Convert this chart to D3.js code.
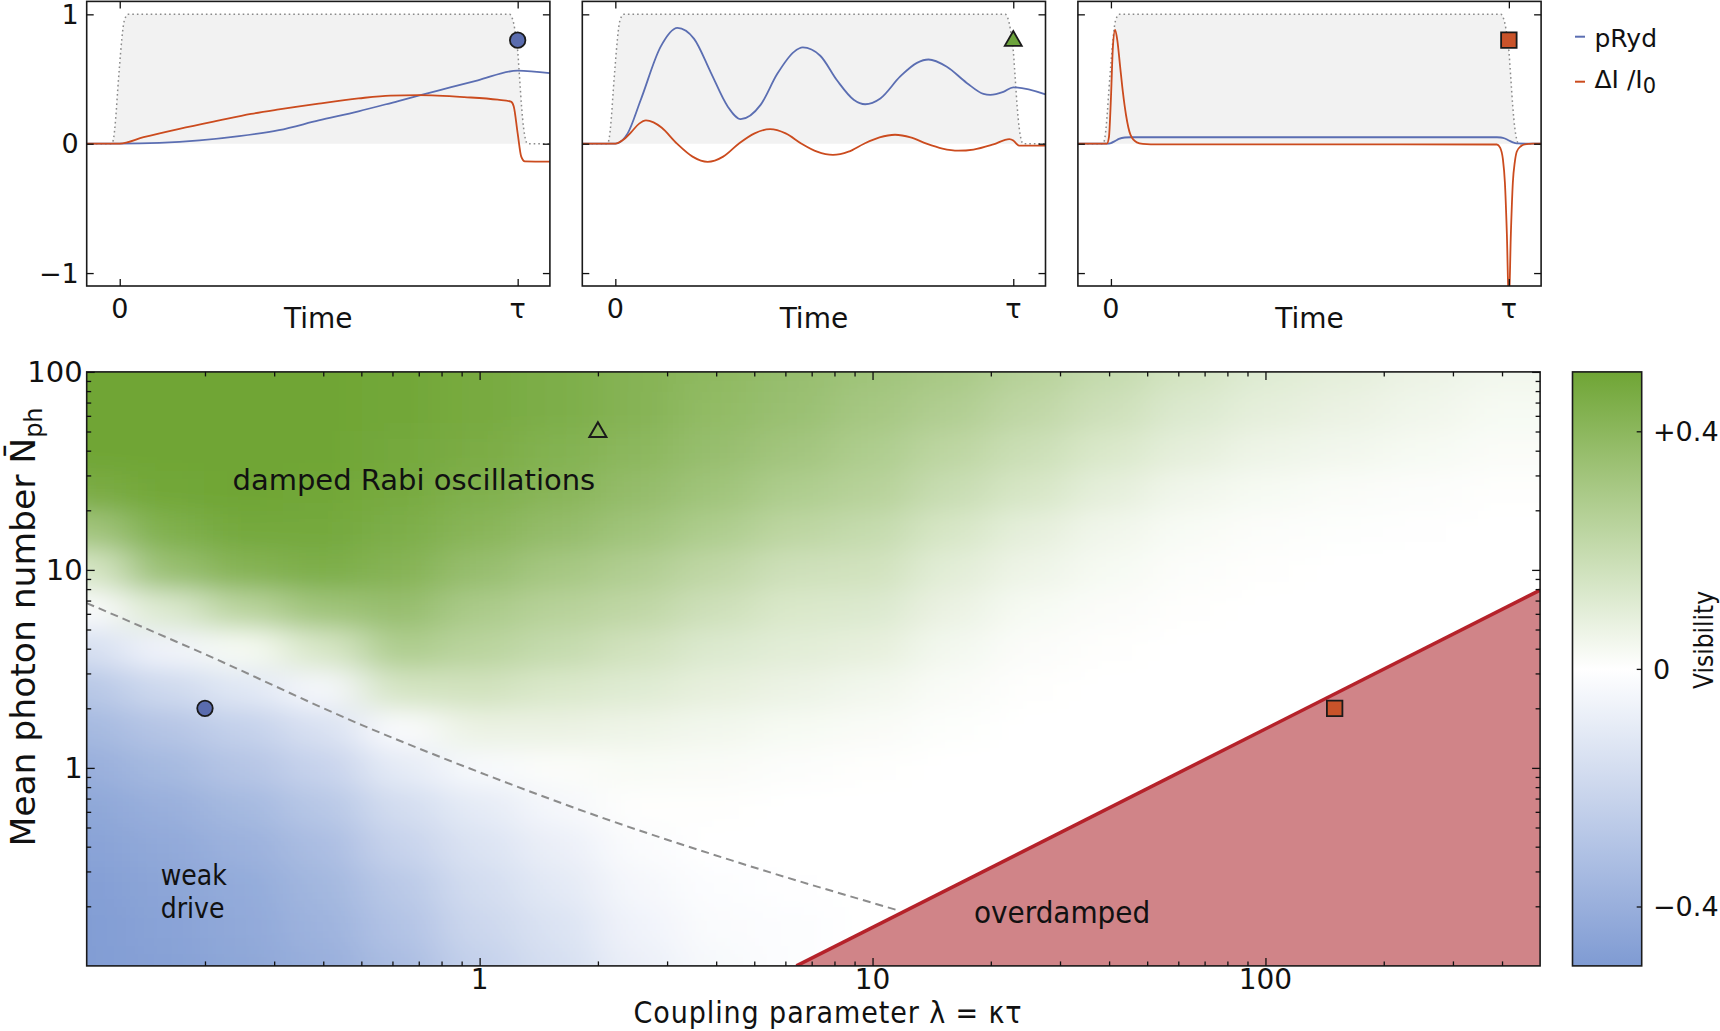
<!DOCTYPE html>
<html><head><meta charset="utf-8">
<script src="https://cdn.jsdelivr.net/npm/d3@7/dist/d3.min.js"></script>
<style>html,body{margin:0;padding:0;background:#fff}svg{display:block}</style>
</head><body>
<svg id="chart" width="1720" height="1031"></svg>
<script>
// ================= DATA =================
// pulse envelope (time in units of tau)
const envT = [-0.083,-0.02,-0.015,-0.01,-0.005,0,0.005,0.01,0.015,0.02,0.98,0.985,0.99,0.995,1.0,1.005,1.01,1.015,1.02,1.025,1.081];
const envV = [0,0,0.05,0.2,0.42,0.62,0.8,0.93,0.98,1,1,0.98,0.93,0.84,0.72,0.5,0.28,0.12,0.03,0,0];

// panel 1 : weak drive
const p1RydT = [-0.083,0,0.1,0.2,0.3,0.4,0.5,0.6,0.7,0.8,0.9,1.0,1.081];
const p1RydV = [0,0,0.006,0.025,0.058,0.105,0.18,0.25,0.33,0.41,0.49,0.565,0.545];
const p1dIT  = [-0.083,0,0.06,0.15,0.25,0.33,0.4,0.5,0.6,0.68,0.75,0.866,0.95,0.983,0.99,1.0,1.009,1.018,1.081];
const p1dIV  = [0,0,0.05,0.115,0.18,0.23,0.265,0.31,0.35,0.372,0.375,0.36,0.34,0.325,0.29,0.08,-0.1,-0.136,-0.138];

// panel 2 : damped Rabi oscillations
const p2RydT = [-0.083,0,0.031,0.064,0.114,0.156,0.198,0.24,0.282,0.315,0.365,0.407,0.449,0.471,0.515,0.557,0.599,0.628,0.666,0.716,0.758,0.787,0.833,0.883,0.925,0.942,0.975,1.0,1.081];
const p2RydV = [0,0,0.08,0.34,0.75,0.895,0.81,0.55,0.29,0.19,0.30,0.54,0.71,0.744,0.68,0.49,0.34,0.305,0.35,0.52,0.625,0.651,0.595,0.47,0.385,0.377,0.40,0.436,0.382];
const p2dIT  = [-0.083,0,0.02,0.04,0.06,0.077,0.096,0.116,0.155,0.194,0.232,0.271,0.31,0.35,0.389,0.428,0.468,0.507,0.547,0.586,0.625,0.664,0.703,0.742,0.782,0.822,0.862,0.9,0.95,0.99,1.0,1.008,1.015,1.081];
const p2dIV  = [0,0,0.03,0.09,0.155,0.18,0.165,0.125,0,-0.1,-0.141,-0.1,0,0.08,0.113,0.08,0,-0.062,-0.087,-0.062,0,0.049,0.069,0.049,0,-0.038,-0.054,-0.045,-0.005,0.036,0.025,0,-0.015,-0.015];

// panel 3 : overdamped
const p3RydT = [-0.083,-0.01,0,0.01,0.02,0.035,0.05,0.97,0.98,0.99,1.0,1.01,1.02,1.081];
const p3RydV = [0,0,0.005,0.02,0.037,0.048,0.05,0.05,0.048,0.04,0.025,0.01,0.002,0];
const p3dIT  = [-0.083,-0.01,-0.005,0,0.005,0.0105,0.016,0.023,0.03,0.038,0.049,0.065,0.08,0.1,0.5,0.97,0.978,0.985,0.99,0.995,1.0,1.005,1.01,1.015,1.02,1.03,1.04,1.06,1.081];
const p3dIV  = [0,0,0.05,0.35,0.75,0.88,0.80,0.6,0.4,0.22,0.07,0.01,-0.002,-0.005,-0.005,-0.006,-0.03,-0.12,-0.3,-0.7,-1.25,-0.7,-0.3,-0.14,-0.06,-0.02,-0.005,0,0];

const panelMarker = ["circle","triangle","square"];
const markerValue = 0.8;

// heat map grid (coupling lambda, photon number) and visibility values
const lamGrid = [0.1,0.158,0.251,0.398,0.631,1,1.585,2.512,3.981,6.31,10,15.85,25.12,39.81,63.1,100,158.5,251.2,398.1];
const nphGrid = [100,63.1,39.8,25.1,15.8,10,6.31,3.98,2.51,1.58,1,0.631,0.398,0.251,0.158,0.1];
const visibility = [
 [ .50, .50, .50, .50, .49, .47, .45, .42, .39, .36, .33, .30, .25, .20, .15, .11, .09, .065,.045],
 [ .50, .50, .50, .50, .49, .47, .45, .42, .38, .35, .31, .27, .22, .17, .12, .09, .07, .05, .03],
 [ .50, .50, .50, .50, .48, .46, .43, .40, .36, .32, .28, .23, .18, .13, .09, .06, .045,.03, .018],
 [ .46, .49, .50, .49, .47, .44, .41, .37, .33, .28, .25, .19, .14, .09, .05, .03, .018,.01, .005],
 [ .32, .44, .48, .48, .45, .41, .37, .33, .28, .23, .20, .14, .09, .05, .025,.012,.006,.003,0],
 [ .14, .35, .42, .45, .42, .36, .31, .27, .22, .17, .16, .10, .06, .03, .012,.005,0,0,0],
 [-.02, .12, .24, .33, .36, .29, .25, .22, .17, .13, .12, .07, .03, .015,.005,0,0,0,0],
 [-.16,-.06, .03, .14, .28, .24, .20, .16, .12, .10, .085,.04, .015,.005,0,0,0,0,0],
 [-.28,-.19,-.12,-.04, .15, .16, .13, .11, .085,.065,.045,.02, .005,0,0,0,0,0,0],
 [-.35,-.29,-.23,-.15,-.02, .07, .07, .06, .045,.03, .02, .008,0,0,0,0,0,0,0],
 [-.40,-.35,-.29,-.22,-.10,-.03, .015,.025,.02, .01, .005,0,0,0,0,0,0,0,0],
 [-.44,-.40,-.35,-.28,-.17,-.10,-.04, .005,.005,0,0,0,0,0,0,0,0,0,0],
 [-.46,-.43,-.39,-.33,-.22,-.14,-.08,-.02, 0, 0,0,0,0,0,0,0,0,0,0],
 [-.48,-.45,-.42,-.36,-.27,-.17,-.11,-.04,-.01,-.005,0,0,0,0,0,0,0,0,0],
 [-.49,-.46,-.43,-.38,-.30,-.20,-.14,-.06,-.02,-.01,0,0,0,0,0,0,0,0,0],
 [-.49,-.47,-.44,-.40,-.33,-.23,-.16,-.08,-.03,-.01,0,0,0,0,0,0,0,0,0]
];

// weak-drive threshold (dashed) and overdamped boundary
const threshLam = [0.1,0.2,0.5,1,2,4.4,11.7];
const threshN   = [6.8,3.75,1.65,0.95,0.57,0.34,0.19];
const overLam = [6.4,500];
const overN   = [0.1,7.9];

// example points
const exampleLam = [0.2,2,150];
const exampleN   = [2,50,2];

const xMajor = [1,10,100];
const yMajor = [1,10,100];
const cbTicks = [0.4,0,-0.4];
const cbTickLabels = ["+0.4","0","\u22120.4"];

// ================= DRAW =================
const svg = d3.select("#chart");
const FW = "DejaVu Sans";
const FC = "'DejaVu Sans Condensed','DejaVu Sans'";
const BLUE = "#5b6eb2", ORANGE = "#cb4b1e";
const MBLUE = "#5a6cae", MGREEN = "#6ca33c", MORANGE = "#c9532a";
const defs = svg.append("defs");

function inwardTicks(g, axisFn, scale, values, size, tf){
  const a = g.append("g").attr("transform", tf)
    .call(axisFn(scale).tickValues(values).tickSize(size).tickFormat(""));
  a.select(".domain").remove();
  a.selectAll("line").attr("stroke","#111").attr("stroke-width",1.3);
  a.selectAll("text").remove();
}

function markerPath(shape, size){
  if(shape==="circle") return d3.symbol(d3.symbolCircle, Math.PI*size*size/4)();
  if(shape==="square") return d3.symbol(d3.symbolSquare, size*size)();
  const h = size*0.87, w = size;
  return `M0,${-h*0.62}L${w/2},${h*0.38}L${-w/2},${h*0.38}Z`;
}

// ----- top panels -----
const panels = [
  {rT:p1RydT, rV:p1RydV, dT:p1dIT, dV:p1dIV},
  {rT:p2RydT, rV:p2RydV, dT:p2dIT, dV:p2dIV},
  {rT:p3RydT, rV:p3RydV, dT:p3dIT, dV:p3dIV}
];
const pLeft = [86.7, 582.3, 1077.9], pW = 463.2, pTop = 1.4, pBot = 286;

panels.forEach((p,i)=>{
  const L = pLeft[i];
  const x = d3.scaleLinear().domain([-0.083,1.081]).range([L, L+pW]);
  const y = d3.scaleLinear().domain([-1.1,1.1]).range([pBot, pTop]);
  const g = svg.append("g");
  const cid = "pclip"+i;
  defs.append("clipPath").attr("id",cid).append("rect")
    .attr("x",L).attr("y",pTop).attr("width",pW).attr("height",pBot-pTop);
  const inner = g.append("g").attr("clip-path",`url(#${cid})`);
  const env = envT.map((t,k)=>[t,envV[k]]);
  inner.append("path").datum(env)
    .attr("d", d3.area().x(d=>x(d[0])).y0(y(0)).y1(d=>y(d[1])).curve(d3.curveMonotoneX))
    .attr("fill","#f2f2f2");
  inner.append("path").datum(env)
    .attr("d", d3.line().x(d=>x(d[0])).y(d=>y(d[1])).curve(d3.curveMonotoneX))
    .attr("fill","none").attr("stroke","#8a8a8a").attr("stroke-width",1.5)
    .attr("stroke-dasharray","1.6 3");
  const ln = d3.line().x(d=>x(d[0])).y(d=>y(d[1])).curve(d3.curveMonotoneX);
  inner.append("path").datum(p.rT.map((t,k)=>[t,p.rV[k]])).attr("d",ln)
    .attr("fill","none").attr("stroke",BLUE).attr("stroke-width",1.8);
  inner.append("path").datum(p.dT.map((t,k)=>[t,p.dV[k]])).attr("d",ln)
    .attr("fill","none").attr("stroke",ORANGE).attr("stroke-width",1.8);
  // marker
  const shape = panelMarker[i];
  g.append("path").attr("d", markerPath(shape, shape==="triangle"?17:15.5))
    .attr("transform",`translate(${x(1)},${y(markerValue)})`)
    .attr("fill", shape==="circle"?MBLUE:shape==="triangle"?MGREEN:MORANGE)
    .attr("stroke","#1a1a1a").attr("stroke-width",1.8);
  // frame & ticks
  g.append("rect").attr("x",L).attr("y",pTop).attr("width",pW).attr("height",pBot-pTop)
    .attr("fill","none").attr("stroke","#1a1a1a").attr("stroke-width",1.6);
  inwardTicks(g, d3.axisLeft, y, [-1,0,1], -7, `translate(${L},0)`);
  inwardTicks(g, d3.axisRight, y, [-1,0,1], -7, `translate(${L+pW},0)`);
  inwardTicks(g, d3.axisBottom, x, [0,1], -7, `translate(0,${pBot})`);
  inwardTicks(g, d3.axisTop, x, [0,1], -7, `translate(0,${pTop})`);
  // labels
  [[0,"0"],[1,"\u03c4"]].forEach(([t,s])=>{
    g.append("text").attr("x",x(t)).attr("y",318).attr("text-anchor","middle")
      .attr("font-family",FW).attr("font-size",27).attr("fill","#111").text(s);
  });
  g.append("text").attr("x",L+pW/2).attr("y",328).attr("text-anchor","middle")
    .attr("font-family",FW).attr("font-size",28).attr("fill","#111").text("Time");
  if(i===0){
    [[1,"1"],[0,"0"],[-1,"\u22121"]].forEach(([v,s])=>{
      g.append("text").attr("x",L-8).attr("y",y(v)).attr("dy","0.36em").attr("text-anchor","end")
        .attr("font-family",FW).attr("font-size",27).attr("fill","#111").text(s);
    });
  }
});

// legend
const leg = svg.append("g");
[[BLUE,36.7,"pRyd",46.7],[ORANGE,81.7,null,88.3]].forEach(([c,yy,txt,base])=>{
  leg.append("line").attr("x1",1575).attr("x2",1585).attr("y1",yy).attr("y2",yy)
    .attr("stroke",c).attr("stroke-width",2);
  const t = leg.append("text").attr("x",1594.5).attr("y",base)
    .attr("font-family",FW).attr("font-size",25).attr("fill","#111");
  if(txt) t.text(txt);
  else { t.append("tspan").text("\u0394I /I");
         t.append("tspan").attr("font-size",21).attr("dy",5).text("0"); }
});

// ----- main plot -----
const M = {l:86.7, r:1540.1, t:371.9, b:965.9};
const x = d3.scaleLog().domain([0.1,500]).range([M.l, M.r]);
const y = d3.scaleLog().domain([0.1,100]).range([M.b, M.t]);
const color = d3.scaleLinear().domain([-0.5,0,0.5]).range(["#7f9bd3","#ffffff","#6fa535"]);

defs.append("clipPath").attr("id","mclip").append("rect")
  .attr("x",M.l).attr("y",M.t).attr("width",M.r-M.l).attr("height",M.b-M.t);
const blur = defs.append("filter").attr("id","blur").attr("filterUnits","userSpaceOnUse")
  .attr("x",0).attr("y",250).attr("width",1720).attr("height",820);
blur.append("feGaussianBlur").attr("stdDeviation","24 12");

const heat = svg.append("g").attr("clip-path","url(#mclip)").append("g").attr("filter","url(#blur)");
const xEdge = i => i<=0 ? x(lamGrid[0])-80 : i>=lamGrid.length ? x(lamGrid[lamGrid.length-1])+140
              : (x(lamGrid[i-1])+x(lamGrid[i]))/2;
const yEdge = j => j<=0 ? y(nphGrid[0])-80 : j>=nphGrid.length ? y(nphGrid[nphGrid.length-1])+80
              : (y(nphGrid[j-1])+y(nphGrid[j]))/2;
visibility.forEach((row,j)=>{
  row.forEach((v,i)=>{
    heat.append("rect").attr("x",xEdge(i)).attr("y",yEdge(j))
      .attr("width",xEdge(i+1)-xEdge(i)+0.5).attr("height",yEdge(j+1)-yEdge(j)+0.5)
      .attr("fill",color(v)).attr("shape-rendering","crispEdges");
  });
});

const main = svg.append("g").attr("clip-path","url(#mclip)");
// overdamped region
const overPts = overLam.map((l,k)=>[l,overN[k]]);
main.append("path")
  .attr("d", d3.line()([...overPts.map(d=>[x(d[0]),y(d[1])]), [x(500),y(0.1)]])+"Z")
  .attr("fill","#d08488");
main.append("path").datum(overPts)
  .attr("d", d3.line().x(d=>x(d[0])).y(d=>y(d[1])))
  .attr("stroke","#b5222a").attr("stroke-width",3.5).attr("fill","none");
// threshold dashed
main.append("path").datum(threshLam.map((l,k)=>[l,threshN[k]]))
  .attr("d", d3.line().x(d=>x(d[0])).y(d=>y(d[1])).curve(d3.curveMonotoneX))
  .attr("stroke","#8c8c8c").attr("stroke-width",2).attr("stroke-dasharray","8 5").attr("fill","none");

// example markers
exampleLam.forEach((l,k)=>{
  const shape = panelMarker[k];
  svg.append("path").attr("d", markerPath(shape, shape==="triangle"?17:15.5))
    .attr("transform",`translate(${x(l)},${y(exampleN[k])})`)
    .attr("fill", shape==="circle"?MBLUE:shape==="triangle"?"none":MORANGE)
    .attr("stroke","#1a1a1a").attr("stroke-width",shape==="triangle"?2:1.8);
});

// region labels
svg.append("text").attr("x",232.5).attr("y",490).attr("font-family",FW).attr("font-size",29)
  .attr("fill","#111").text("damped Rabi oscillations");
svg.append("text").attr("x",160.7).attr("y",885).attr("font-family",FC).attr("font-stretch","condensed")
  .attr("font-size",28).attr("fill","#111").text("weak");
svg.append("text").attr("x",160.7).attr("y",918).attr("font-family",FC).attr("font-stretch","condensed")
  .attr("font-size",28).attr("fill","#111").text("drive");
svg.append("text").attr("x",974).attr("y",922.5).attr("font-family",FC).attr("font-stretch","condensed")
  .attr("font-size",31).attr("fill","#111").text("overdamped");

// frame and ticks
svg.append("rect").attr("x",M.l).attr("y",M.t).attr("width",M.r-M.l).attr("height",M.b-M.t)
  .attr("fill","none").attr("stroke","#1a1a1a").attr("stroke-width",1.6);
const xMinor = [], yMinor = [];
[0.1,1,10,100].forEach(d=>{ for(let m=2;m<=9;m++){ const v=d*m; if(v<500) xMinor.push(v); if(v<100) yMinor.push(v);} });
const mg = svg.append("g");
inwardTicks(mg, d3.axisBottom, x, xMajor, -8, `translate(0,${M.b})`);
inwardTicks(mg, d3.axisTop, x, xMajor, -8, `translate(0,${M.t})`);
inwardTicks(mg, d3.axisBottom, x, xMinor, -4.5, `translate(0,${M.b})`);
inwardTicks(mg, d3.axisTop, x, xMinor, -4.5, `translate(0,${M.t})`);
inwardTicks(mg, d3.axisLeft, y, yMajor, -8, `translate(${M.l},0)`);
inwardTicks(mg, d3.axisRight, y, yMajor, -8, `translate(${M.r},0)`);
inwardTicks(mg, d3.axisLeft, y, yMinor, -4.5, `translate(${M.l},0)`);
inwardTicks(mg, d3.axisRight, y, yMinor, -4.5, `translate(${M.r},0)`);
xMajor.forEach(v=>{
  mg.append("text").attr("x",x(v)).attr("y",989).attr("text-anchor","middle")
    .attr("font-family",FW).attr("font-size",28).attr("fill","#111").text(v);
});
yMajor.forEach(v=>{
  mg.append("text").attr("x",M.l-4).attr("y",y(v)).attr("dy","0.36em").attr("text-anchor","end")
    .attr("font-family",FW).attr("font-size",29).attr("fill","#111").text(v);
});
// axis titles
svg.append("text").attr("x",828).attr("y",1023).attr("text-anchor","middle")
  .attr("font-family",FC).attr("font-stretch","condensed").attr("font-size",30)
  .attr("letter-spacing",0.9).attr("fill","#111")
  .text("Coupling parameter \u03bb = \u03ba\u03c4");
const yl = svg.append("text").attr("transform","translate(35,627) rotate(-90)").attr("text-anchor","middle")
  .attr("font-family",FW).attr("font-size",34.5).attr("fill","#111");
yl.append("tspan").text("Mean photon number N\u0304");
yl.append("tspan").attr("font-size",24).attr("dy",7).text("ph");

// ----- colorbar -----
const CB = {l:1572.5, r:1641.7, t:371.9, b:965.9};
const cy = d3.scaleLinear().domain([-0.5,0.5]).range([CB.b, CB.t]);
const grad = defs.append("linearGradient").attr("id","cbgrad").attr("x1",0).attr("x2",0).attr("y1",0).attr("y2",1);
d3.range(0,11).forEach(k=>{
  const v = 0.5 - k*0.1;
  grad.append("stop").attr("offset",(k/10)).attr("stop-color",color(v));
});
svg.append("rect").attr("x",CB.l).attr("y",CB.t).attr("width",CB.r-CB.l).attr("height",CB.b-CB.t)
  .attr("fill","url(#cbgrad)").attr("stroke","#1a1a1a").attr("stroke-width",1.6);
inwardTicks(svg, d3.axisRight, cy, cbTicks, -5, `translate(${CB.r},0)`);
cbTicks.forEach((v,k)=>{
  svg.append("text").attr("x",1653).attr("y",cy(v)).attr("dy","0.36em")
    .attr("font-family",FW).attr("font-size",27).attr("fill","#111").text(cbTickLabels[k]);
});
svg.append("text").attr("transform","translate(1713,640) rotate(-90)").attr("text-anchor","middle")
  .attr("font-family",FC).attr("font-stretch","condensed").attr("font-size",26).attr("fill","#111")
  .text("Visibility");
</script>
</body></html>
